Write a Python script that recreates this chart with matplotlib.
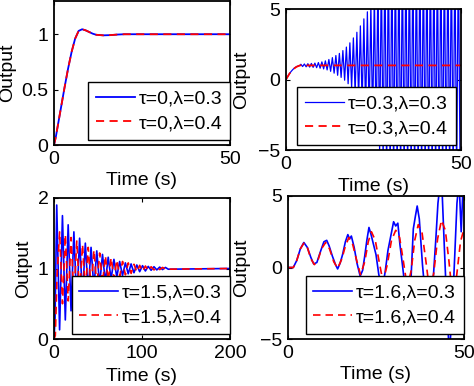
import numpy as np
import matplotlib
matplotlib.use('Agg')
import matplotlib.pyplot as plt

plt.rcParams['font.family'] = ['Liberation Sans', 'DejaVu Sans']

# ---- top left: tau = 0 ----
tl_t = [0, 0.5, 1, 2, 3, 4, 5, 6, 7, 8, 9, 10, 11, 12, 14, 16, 18, 20, 24, 30, 50]
tl_blue = [0, 0.07, 0.16, 0.34, 0.52, 0.69, 0.84, 0.96, 1.03, 1.045, 1.035, 1.02, 1.005, 0.995, 0.99, 0.992, 0.997, 1.0, 1.0, 1.0, 1.0]
tl_red = [0, 0.07, 0.16, 0.34, 0.52, 0.69, 0.84, 0.96, 1.03, 1.045, 1.035, 1.02, 1.005, 0.995, 0.99, 0.992, 0.997, 1.0, 1.0, 1.0, 1.0]

# ---- top right: tau = 0.3 ----
tr_rise_t = [0, 0.5, 1, 1.5, 2, 2.5, 3, 3.5, 4]
tr_rise_v = [0, 0.22, 0.42, 0.58, 0.72, 0.83, 0.91, 0.96, 1.0]
# blue extrema, one cycle per second from t = 4
tr_peak_v = [1.08, 1.1, 1.12, 1.14, 1.16, 1.2, 1.25, 1.32, 1.42, 1.55, 1.7, 1.85,
             2.05, 2.3, 2.6, 2.95, 3.35, 3.8, 4.3, 4.8, 5.4, 6.2, 7.0, 8.0] + [9.0] * 22
tr_trough_v = [0.92, 0.9, 0.88, 0.86, 0.84, 0.8, 0.75, 0.68, 0.58, 0.45, 0.3, 0.15,
               -0.05, -0.3, -0.6, -0.95, -1.35, -1.8, -2.3, -2.8, -3.4, -4.2, -5.1, -6.0] + [-7.0] * 22
tr_red_t = [0, 1, 2, 3, 4, 5, 6, 8, 50]
tr_red = [0, 0.42, 0.72, 0.9, 1.0, 1.03, 1.0, 1.0, 1.0]

# ---- bottom left: tau = 1.5 (period ~6.5 s) ----
bl_blue_start_t = [0, 1.2]
bl_blue_start_v = [0, 0.3]
bl_blue_peak = [1.9, 1.75, 1.62, 1.52, 1.43, 1.36, 1.3, 1.25, 1.2, 1.16, 1.13, 1.1,
                1.08, 1.065, 1.05, 1.04, 1.03, 1.025, 1.02, 1.015]
bl_blue_trough = [0.13, 0.27, 0.4, 0.5, 0.59, 0.66, 0.72, 0.77, 0.81, 0.85, 0.88, 0.9,
                  0.925, 0.94, 0.955, 0.965, 0.975, 0.98, 0.985, 0.99]
bl_red_start_t = [0, 1.5, 3.5]
bl_red_start_v = [0, 0.05, 0.9]
bl_red_peak = [1.52, 1.48, 1.44, 1.39, 1.34, 1.3, 1.26, 1.22, 1.18, 1.15, 1.12, 1.1,
               1.08, 1.06, 1.045, 1.035, 1.025, 1.02, 1.015]
bl_red_trough = [0.5, 0.54, 0.59, 0.63, 0.67, 0.71, 0.75, 0.79, 0.83, 0.86, 0.89, 0.91,
                 0.93, 0.95, 0.96, 0.97, 0.98, 0.985, 0.99]

# ---- bottom right: tau = 1.6 ----
br_blue_t = [0, 1.5, 2.5, 3.5, 4.5, 5.5, 6.5, 7.3, 8.2, 9.2, 10.2, 11.0, 11.7, 12.6, 13.5,
             14.1, 14.8, 15.5, 16.3, 17.0, 17.5, 18.0, 18.8, 19.6, 20.5, 21.2, 21.8, 22.4,
             23.0, 23.6, 24.3, 25.0, 25.8, 26.8, 27.6, 28.4, 29.2, 30.0, 30.6, 31.2, 31.8,
             32.5, 33.3, 34.2, 35.0, 35.6, 36.2, 36.7, 37.3, 38.2, 39.2, 40.2, 41.2, 42.0,
             42.6, 43.2, 43.8, 44.4, 45.0, 45.8, 46.6, 47.4, 48.0, 48.6, 49.2, 49.7, 50]
br_blue = [0, 0, 0.5, 1.3, 1.75, 1.4, 0.7, 0.25, 0.35, 1.1, 1.8, 1.9, 1.5, 0.8, 0.2,
           -0.1, 0.3, 0.9, 1.8, 2.3, 2.0, 2.2, 1.4, 0.3, -0.6, -0.2, 0.8, 1.9,
           2.8, 2.3, 1.6, 0.9, -0.5, -1.5, -0.3, 1.2, 2.2, 3.2, 2.9, 3.1, 1.6,
           0.2, -1.5, -2.6, -0.5, 2.7, 3.6, 4.3, 3.4, 0.2, -2.5, -3.6, -1.0, 2.0,
           4.5, 5.8, 5.2, 1.5, -2.0, -6.0, -3.5, 1.0, 4.5, 6.0, 2.5, 5.5, 5.5]
br_red_t = [0, 1.5, 2.5, 3.5, 4.5, 5.5, 6.5, 7.5, 8.5, 9.5, 10.7, 11.8, 13.0, 14.1, 15.3,
            16.3, 17.3, 18.4, 19.5, 20.6, 21.8, 22.8, 23.7, 24.8, 25.9, 27.0, 28.2, 29.4,
            30.6, 31.7, 32.8, 33.9, 35.0, 36.0, 37.0, 38.1, 39.2, 40.3, 41.4, 42.5, 43.6,
            44.7, 45.7, 46.8, 47.9, 49.0, 50]
br_red = [0, 0, 0.5, 1.3, 1.7, 1.4, 0.6, 0.2, 0.5, 1.3, 1.75, 1.3, 0.4, -0.05, 0.6,
          1.5, 2.1, 1.6, 0.5, -0.5, 0.4, 1.8, 2.5, 1.9, 0.4, -1.0, 0.2, 1.9,
          2.6, 2.1, 0.4, -1.4, -0.2, 1.9, 3.0, 2.4, 0.4, -1.8, -0.4, 2.0,
          3.3, 2.6, 0.5, -2.2, -0.6, 1.8, 2.7]

BLUE = '#0000ff'
RED = '#ff0000'
DASH = (0, (4.5, 3))


def zigzag(t0, first, second, step):
    # interleave read extrema at their (evenly spaced) times
    n = min(len(first), len(second))
    t = np.empty(2 * n)
    v = np.empty(2 * n)
    t[0::2] = t0 + np.arange(n) * step
    t[1::2] = t0 + step / 2 + np.arange(n) * step
    v[0::2] = first[:n]
    v[1::2] = second[:n]
    return t, v


def fmt(v):
    return ('%g' % v).replace('-', '\u2212')


fig = plt.figure(figsize=(4.74, 3.86), dpi=100)

positions = {
    'tl': [54 / 474, 1 - 145 / 386, 176 / 474, 144 / 386],
    'tr': [286 / 474, 1 - 150 / 386, 175 / 474, 141 / 386],
    'bl': [54 / 474, 1 - 339 / 386, 176 / 474, 141 / 386],
    'br': [288 / 474, 1 - 339 / 386, 176 / 474, 143 / 386],
}


def style(ax, xlim, ylim, xticks, yticks, ylab_x, xlab_y):
    ax.set_xlim(xlim)
    ax.set_ylim(ylim)
    ax.set_xticks(xticks)
    ax.set_yticks(yticks)
    ax.set_xticklabels([fmt(v) for v in xticks])
    ax.set_yticklabels([fmt(v) for v in yticks])
    ax.tick_params(direction='in', length=3, width=0.8, top=True, right=True,
                   labelsize=14, pad=4)
    for s in ax.spines.values():
        s.set_linewidth(1.3)
    ax.set_xlabel('Time (s)', fontsize=14)
    ax.set_ylabel('Output', fontsize=14)
    ax.yaxis.set_label_coords(ylab_x, 0.5)
    ax.xaxis.set_label_coords(0.5, xlab_y)


def legend(ax, labels, right=1.0):
    leg = ax.legend(labels, loc='lower right', bbox_to_anchor=(right, 0.035),
                    fontsize=14, handlelength=2.0, handletextpad=0.2,
                    borderpad=0.4, labelspacing=0.35, fancybox=False,
                    framealpha=1, edgecolor='black', borderaxespad=0)
    leg.get_frame().set_linewidth(1.0)


# top left
ax = fig.add_axes(positions['tl'])
ax.plot(tl_t, tl_blue, color=BLUE, lw=1.3)
ax.plot(tl_t, tl_red, color=RED, lw=1.3, linestyle=DASH)
style(ax, (0, 50), (0, 1.3), [0, 50], [0, 0.5, 1], -0.215, -0.19)
legend(ax, ['τ=0,λ=0.3', 'τ=0,λ=0.4'])

# top right
ax = fig.add_axes(positions['tr'])
zt, zv = zigzag(4.25, tr_peak_v, tr_trough_v, 1.0)
ax.plot(np.concatenate([tr_rise_t, zt]), np.concatenate([tr_rise_v, zv]), color=BLUE, lw=0.9)
ax.plot(tr_red_t, tr_red, color=RED, lw=1.3, linestyle=DASH)
style(ax, (0, 50), (-5, 5), [0, 50], [-5, 0, 5], -0.206, -0.2)
legend(ax, ['τ=0.3,λ=0.3', 'τ=0.3,λ=0.4'], right=0.97)

# bottom left
ax = fig.add_axes(positions['bl'])
bt, bv = zigzag(3.1, bl_blue_peak, bl_blue_trough, 6.5)
ax.plot(np.concatenate([bl_blue_start_t, bt, [200]]), np.concatenate([bl_blue_start_v, bv, [1.0]]),
        color=BLUE, lw=1.2)
rt, rv = zigzag(6.4, bl_red_peak, bl_red_trough, 6.5)
ax.plot(np.concatenate([bl_red_start_t, rt, [200]]), np.concatenate([bl_red_start_v, rv, [1.0]]),
        color=RED, lw=1.2, linestyle=DASH)
style(ax, (0, 200), (0, 2), [0, 100, 200], [0, 1, 2], -0.125, -0.206)
legend(ax, ['τ=1.5,λ=0.3', 'τ=1.5,λ=0.4'])

# bottom right
ax = fig.add_axes(positions['br'])
ax.plot(br_blue_t, br_blue, color=BLUE, lw=1.2)
ax.plot(br_red_t, br_red, color=RED, lw=1.2, linestyle=DASH)
style(ax, (0, 50), (-5, 5), [0, 50], [-5, 0, 5], -0.214, -0.19)
legend(ax, ['τ=1.6,λ=0.3', 'τ=1.6,λ=0.4'])

fig.savefig('out.png', dpi=100)
